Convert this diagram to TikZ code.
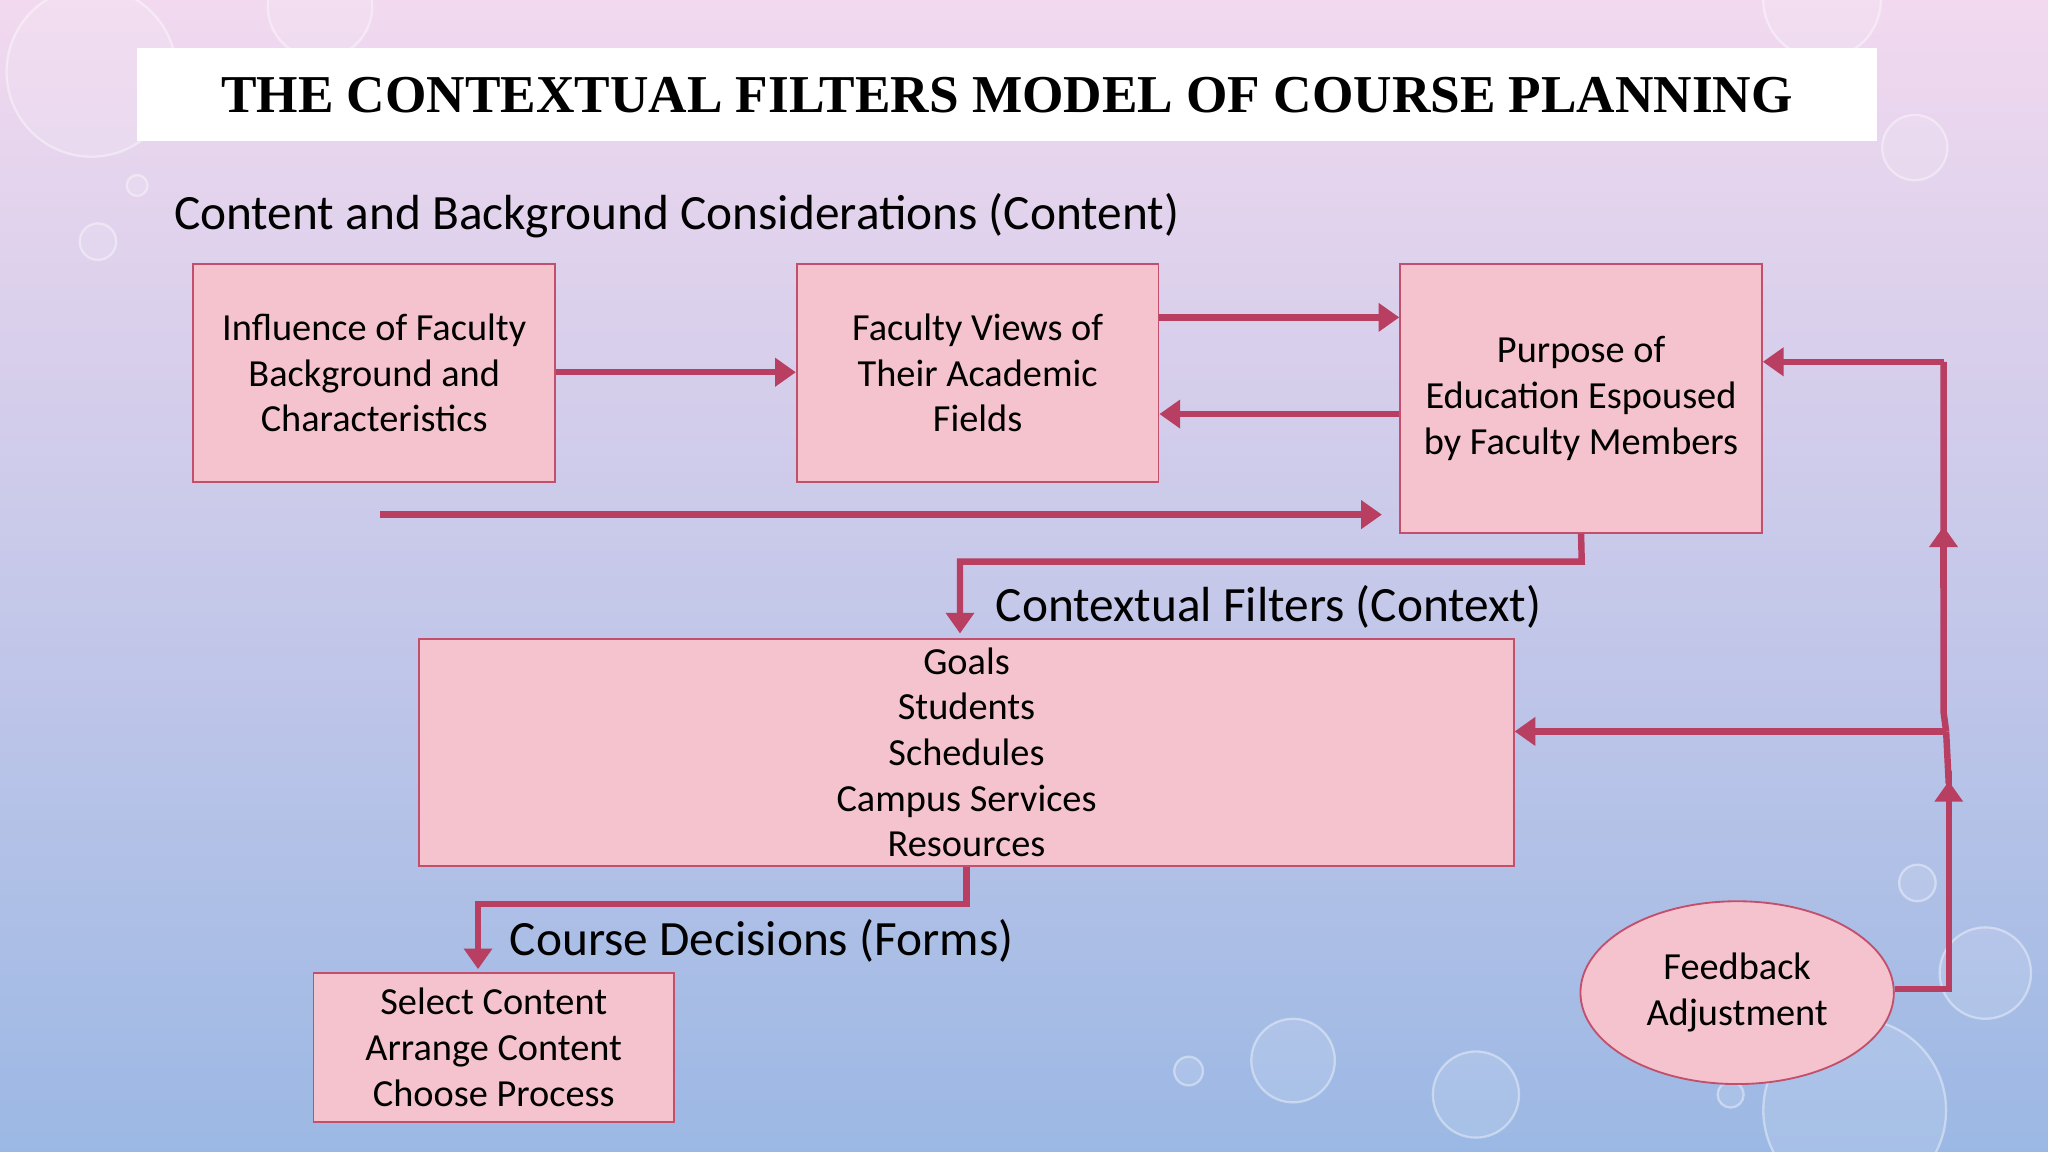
\documentclass[tikz,border=0pt]{standalone}
\usepackage{fontspec}
\setmainfont{Carlito}
\newfontfamily\titlefont{Liberation Serif}
\usetikzlibrary{shapes.geometric,arrows.meta}
\definecolor{bgtop}{HTML}{F2D9EF}
\definecolor{bgmid}{HTML}{E3DDF2}
\definecolor{bgbot}{HTML}{9BB8E4}
\definecolor{boxfill}{HTML}{F5C3CD}
\definecolor{boxline}{HTML}{C24F6C}
\definecolor{arrc}{HTML}{B83E62}
\tikzset{
 box/.style={draw=boxline,fill=boxfill,line width=0.8pt,inner sep=0pt,align=center,font=\fontsize{16.7}{20}\selectfont},
 arr/.style={draw=arrc,line width=2.8pt,-{Triangle[length=9pt,width=12pt]}},
 ln/.style={draw=arrc,line width=2.8pt},
 head/.style={anchor=west,inner sep=0pt,font=\fontsize{21.5}{24}\selectfont},
 bub/.style={draw=white,opacity=0.4,line width=1pt,fill=white,fill opacity=0.12}
}
\begin{document}
\begin{tikzpicture}[x=0.02cm,y=-0.02cm]
\useasboundingbox (0,0) rectangle (1568,882);
\shade[top color=bgtop,middle color=bgmid,bottom color=bgbot] (0,0) rectangle (1568,882);
% bubbles
\foreach \x/\y/\r in {70/55/65,245/5/40,1395/0/45,1466/113/25,105/142/8,75/185/14,1468/676/14,1520/745/35,990/812/32,1130/838/33,1420/850/70,910/820/11,1325/838/10}
 \draw[bub] (\x,\y) circle (\r);
% title
\node[fill=white,minimum width=26.64cm,minimum height=1.42cm,inner sep=0pt] (title) at (771,72.5)
 {\titlefont\bfseries\fontsize{23.2}{26}\selectfont THE CONTEXTUAL FILTERS MODEL OF COURSE PLANNING};
\node[head] (h1) at (133,165) {Content and Background Considerations (Content)};
\node[box,minimum width=5.54cm,minimum height=3.34cm] (b1) at (286.5,285.5) {Influence of Faculty\\Background and\\Characteristics};
\node[box,minimum width=5.54cm,minimum height=3.34cm] (b2) at (748.5,285.5) {Faculty Views of\\Their Academic\\Fields};
\node[box,minimum width=5.54cm,minimum height=4.12cm] (b3) at (1210.5,305) {Purpose of\\Education Espoused\\by Faculty Members};
\node[head] (h2) at (762,465) {Contextual Filters (Context)};
\node[box,minimum width=16.76cm,minimum height=3.48cm,font=\fontsize{16.7}{19.9}\selectfont] (b4) at (740,576) {Goals\\Students\\Schedules\\Campus Services\\Resources};
\node[head] (h3) at (390,720) {Course Decisions (Forms)};
\node[box,minimum width=5.52cm,minimum height=2.28cm] (b5) at (378,802) {Select Content\\Arrange Content\\Choose Process};
\node[ellipse,draw=boxline,fill=boxfill,line width=0.8pt,minimum width=4.8cm,minimum height=2.8cm,inner sep=0pt,align=center,font=\fontsize{16.7}{20}\selectfont] (fb) at (1330,760) {Feedback\\Adjustment};
% connectors
\draw[arr] (b1.east |- 0,285) -- (b2.west |- 0,285);
\draw[arr] (b2.east |- 0,243) -- (b3.west |- 0,243);
\draw[arr] (b3.west |- 0,317) -- (b2.east |- 0,317);
\coordinate (ls) at (291,394);
\coordinate (le) at (1058,394);
\draw[arr] (ls) -- (le);
\draw[arr] (b3.south) -- (1211,430) -- (735,430) -- (735,485);
\draw[arr] (b4.south) -- (740,692) -- (366,692) -- (366,742);
% feedback loop
\coordinate (f1) at (1492,757);
\coordinate (f2) at (1492,598);
\coordinate (f3) at (1490,560);
\coordinate (f4) at (1488,403);
\coordinate (f5) at (1488,277);
\draw[ln] (fb.east |- 0,757) -- (f1) -- (1492,590);
\draw[arr] (1492,650) -- (f2);
\draw[ln] (1492,600) -- (f3);
\draw[arr] (f3) -- (b4.east |- 0,560);
\draw[ln] (f3) -- (1488,545) -- (f5);
\draw[arr] (1488,450) -- (f4);
\draw[arr] (f5) -- (b3.east |- 0,277);
\end{tikzpicture}
\end{document}
